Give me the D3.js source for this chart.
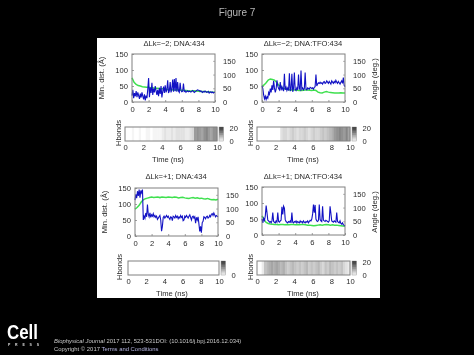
<!DOCTYPE html>
<html>
<head>
<meta charset="utf-8">
<script src="https://cdn.jsdelivr.net/npm/d3@7"></script>
<style>
  html, body { margin: 0; padding: 0; background: #000; }
  svg { display: block; filter: blur(0.4px); }
  text { font-family: "Liberation Sans", Arial, sans-serif; }
</style>
</head>
<body>
<svg id="drawing_region"></svg>
<script>
// values
const titles = ["ΔLk=−2; DNA:434", "ΔLk=−2; DNA:TFO:434", "ΔLk=+1; DNA:434", "ΔLk=+1; DNA:TFO:434"];
const time_ticks = [0, 2, 4, 6, 8, 10];
const dist_ticks = [0, 50, 100, 150];
const angle_ticks = [0, 50, 100, 150];

// min. dist., one value every 0.1 ns
const dist_a = [20,38,12,28,18,34,15,30,20,10, 26,14,30,18,8,24,5,20,12,40,
    75,15,45,28,60,22,42,30,50,35, 22,38,18,44,25,50,14,32,48,28,
    52,30,38,68,28,35,62,30,40,70, 32,72,34,75,32,62,34,30,60,36,
    32,34,58,33,35,30,33,35,32,34, 33,31,34,36,33,30,32,34,36,38,
    37,36,33,35,32,30,33,31,34,32, 30,31,33,28,30,32,29,31,28,30,30];
const dist_b = [50,42,22,10,18,8,16,12,30,24, 42,30,52,38,66,44,30,40,68,50,
    42,38,62,36,48,40,34,88,38,46, 36,44,36,90,34,40,88,32,42,92,
    40,36,44,38,86,42,38,98,40,44, 38,42,92,40,38,44,42,40,46,44,
    42,44,40,46,48,86,50,56,60,58, 62,58,60,56,62,64,58,60,66,62,
    58,64,60,56,66,62,58,64,60,68, 62,58,64,60,56,62,66,58,76,52,48];
const dist_c = [112,130,118,140,125,145,120,142,135,145, 50,62,55,72,60,98,68,60,72,58,
    66,62,70,60,64,58,62,52,56,60, 64,50,15,30,58,62,56,60,64,58,
    62,56,52,60,58,48,62,60,56,64, 58,62,54,60,56,64,58,62,48,50,
    62,58,64,60,56,62,66,58,50,60, 62,56,60,40,58,50,60,38,14,30,
    10,42,46,60,58,54,60,62,56,58, 64,60,68,70,64,72,66,60,64,62,60];
const dist_d = [50,38,52,46,60,92,70,46,44,40, 42,38,44,70,42,40,38,44,40,70,
    42,40,44,46,88,64,90,84,48,42, 40,38,42,40,44,38,70,40,38,42,
    40,44,38,42,40,38,44,40,42,38, 44,40,38,42,40,44,38,42,46,44,
    50,66,95,70,94,50,44,42,46,95, 48,44,42,90,46,44,42,46,44,42,
    40,44,90,68,44,42,40,44,42,40, 70,42,40,38,44,36,34,38,32,30,28];

// angle, one value every 0.25 ns
const angle_a = [88,72,64,60,58,56,55,54,54,52,52,50,50,49,48,48,47,46,46,45,44,44,45,44,43,43,42,41,40,40,41,40,39,38,38,38,37,37,36,36,36];
const angle_b = [58,62,70,80,84,82,80,72,62,56,50,48,46,45,44,44,44,43,42,42,43,44,44,43,42,44,42,36,34,33,36,38,36,35,34,33,33,33,34,33,33];
const angle_c = [98,104,112,124,132,136,138,140,142,140,141,142,140,142,141,140,142,141,140,142,141,139,140,141,139,138,137,139,140,138,139,137,138,136,135,137,134,132,133,131,134];
const angle_d = [70,56,46,42,40,39,38,38,37,38,38,37,38,37,38,38,37,38,37,38,38,37,36,36,35,34,35,36,37,36,37,38,37,36,37,36,36,35,34,33,32];

// hbonds, one cell every 0.25 ns
const hbonds_a = [0,0,0,1,0,0,1,0,0,1,1,0,1,1,1,1,2,3,2,2,3,2,3,3,3,3,2,2,3,4,10,11,10,9,11,12,10,9,11,11];
const hbonds_b = [0,0,0,0,0,0,0,0,0,0,3,4,4,3,4,5,4,3,4,4,5,4,3,4,5,4,4,5,6,5,6,7,8,10,11,12,11,10,12,9];
const hbonds_c = [0,0,0,0,0,0,0,0,0,0,0,0,0,0,0,0,0,0,0,0,0,0,0,0,0,0,0,0,0,0,0,0,0,0,0,0,0,0,0,0];
const hbonds_d = [0,0,2,6,7,8,9,8,9,8,7,8,6,5,6,7,6,5,6,5,6,7,5,6,5,6,7,5,4,6,5,7,6,5,6,5,6,4,3,2];

const hbond_bar_ticks = [[0, 20], [0, 20], [0], [0, 20]];

const svg = d3.select("#drawing_region").attr("width", 474).attr("height", 355);
const plot_w = 83, plot_h = 48;
const font_size = 7.6;

svg.append("text").attr("x", 237).attr("y", 16).attr("text-anchor", "middle")
    .attr("font-size", 10).attr("fill", "#b8b8b8").text("Figure 7");
svg.append("rect").attr("x", 97).attr("y", 38).attr("width", 283).attr("height", 260).attr("fill", "#fff");

const layout = [
    {left: 132, top: 54, hleft: 125, hwidth: 92, htop: 127, distx: 101, angx: null, hbx: 118, titlex: 174, titley: 45.5, timex: 168, timey: 162},
    {left: 262, top: 54, hleft: 257, hwidth: 93, htop: 127, distx: null, angx: 377, hbx: 250, titlex: 303, titley: 45.5, timex: 303, timey: 162},
    {left: 135, top: 188, hleft: 128, hwidth: 91, htop: 261, distx: 104, angx: null, hbx: 119, titlex: 176, titley: 179, timex: 172, timey: 296},
    {left: 262, top: 187, hleft: 257, hwidth: 93, htop: 261, distx: null, angx: 377, hbx: 250, titlex: 303, titley: 179, timex: 303, timey: 296},
];
const dists = [dist_a, dist_b, dist_c, dist_d];
const angles = [angle_a, angle_b, angle_c, angle_d];
const hbonds = [hbonds_a, hbonds_b, hbonds_c, hbonds_d];

const shade = d3.scaleLinear().domain([0, 22]).range(["#ffffff", "#222222"]);

function style_axis(g, color) {
    g.select(".domain").remove();
    g.selectAll("line").attr("stroke", color).attr("stroke-width", 0.7);
    g.selectAll("text").attr("font-size", font_size).attr("fill", "#2a2a2a");
}

function label(x, y, txt, rotate) {
    const t = svg.append("text").attr("text-anchor", "middle").attr("font-size", font_size)
        .attr("fill", "#2a2a2a").text(txt);
    if (rotate) t.attr("transform", `translate(${x},${y}) rotate(-90)`);
    else t.attr("x", x).attr("y", y);
}

layout.forEach((p, i) => {
    const chart = svg.append("g").attr("transform", `translate(${p.left},${p.top})`);
    const xscale = d3.scaleLinear().domain([0, 10]).range([0, plot_w]);
    const yleft = d3.scaleLinear().domain([0, 150]).range([plot_h, 0]);
    const yright = d3.scaleLinear().domain([0, 175]).range([plot_h, 0]);

    chart.append("g").attr("transform", `translate(0,${plot_h})`)
        .call(d3.axisBottom(xscale).tickValues(time_ticks).tickSize(-2).tickSizeOuter(0).tickPadding(5))
        .call(style_axis, "#777");
    chart.append("g")
        .call(d3.axisLeft(yleft).tickValues(dist_ticks).tickSize(-2).tickSizeOuter(0).tickPadding(4))
        .call(style_axis, "#777");
    chart.append("g").attr("transform", `translate(${plot_w},0)`)
        .call(d3.axisRight(yright).tickValues(angle_ticks).tickSize(-2).tickSizeOuter(0).tickPadding(8))
        .call(style_axis, "#999");

    chart.append("path").datum(angles[i])
        .attr("fill", "none").attr("stroke", "#3fe04f").attr("stroke-width", 1.5)
        .attr("d", d3.line().x((d, k) => xscale(k * 0.25)).y(d => yright(d)));
    chart.append("path").datum(dists[i])
        .attr("fill", "none").attr("stroke", "#1212c4").attr("stroke-width", 1.1)
        .attr("d", d3.line().x((d, k) => xscale(k * 0.1)).y(d => yleft(d)));
    chart.append("rect").attr("width", plot_w).attr("height", plot_h)
        .attr("fill", "none").attr("stroke", "#808080").attr("stroke-width", 1);

    // hbonds strip
    const hh = 14;
    const strip = svg.append("g").attr("transform", `translate(${p.hleft},${p.htop})`);
    const hx = d3.scaleLinear().domain([0, 10]).range([0, p.hwidth]);
    strip.selectAll("rect.cell").data(hbonds[i]).enter().append("rect")
        .attr("class", "cell")
        .attr("x", (d, k) => hx(k * 0.25))
        .attr("y", 0)
        .attr("width", hx(0.25) + 0.4)
        .attr("height", hh)
        .attr("fill", d => shade(d));
    strip.append("rect").attr("width", p.hwidth).attr("height", hh)
        .attr("fill", "none").attr("stroke", "#808080").attr("stroke-width", 1);
    strip.append("g").attr("transform", `translate(0,${hh})`)
        .call(d3.axisBottom(hx).tickValues(time_ticks).tickSize(0).tickPadding(4))
        .call(style_axis, "#777");

    // colour bar
    const bar = strip.append("g").attr("transform", `translate(${p.hwidth + 2},0)`);
    const by = d3.scaleLinear().domain([0, 22]).range([hh, 0]);
    bar.selectAll("rect").data(d3.range(0, 22, 1)).enter().append("rect")
        .attr("x", 0).attr("y", d => by(d + 1))
        .attr("width", 4.5).attr("height", by(0) - by(1) + 0.3)
        .attr("fill", d => shade(d + 0.5));
    bar.append("rect").attr("width", 4.5).attr("height", hh)
        .attr("fill", "none").attr("stroke", "#999").attr("stroke-width", 0.5);
    bar.append("g").attr("transform", "translate(4.5,0)")
        .call(d3.axisRight(by).tickValues(hbond_bar_ticks[i]).tickSize(0).tickPadding(6))
        .call(style_axis, "#777");

    label(p.titlex, p.titley, titles[i], false);
    label(p.timex, p.timey, "Time (ns)", false);
    label(p.hbx + 3, p.htop + 6, "Hbonds", true);
    if (p.distx) label(p.distx + 3, p.top + 24, "Min. dist. (Å)", true);
    if (p.angx) label(p.angx, p.top + 25, "Angle (deg.)", true);
});

// footer
const foot1 = svg.append("text").attr("x", 54).attr("y", 343).attr("font-size", 5.9).attr("fill", "#c8c8c8");
foot1.append("tspan").attr("font-style", "italic").text("Biophysical Journal");
foot1.append("tspan").text(" 2017 112, 523-531DOI: (10.1016/j.bpj.2016.12.034)");
const foot2 = svg.append("text").attr("x", 54).attr("y", 351).attr("font-size", 5.9).attr("fill", "#c8c8c8");
foot2.append("tspan").text("Copyright © 2017 ");
foot2.append("tspan").attr("fill", "#b4b4e0").attr("text-decoration", "underline").text(" Terms and Conditions");

svg.append("text").attr("x", 7).attr("y", 339).attr("font-size", 20).attr("font-weight", "bold")
    .attr("fill", "#fff").attr("textLength", 31).attr("lengthAdjust", "spacingAndGlyphs").text("Cell");
svg.append("text").attr("x", 8).attr("y", 346).attr("font-size", 3.5).attr("font-weight", "bold")
    .attr("fill", "#ddd").attr("textLength", 31).text("PRESS");
</script>
</body>
</html>
